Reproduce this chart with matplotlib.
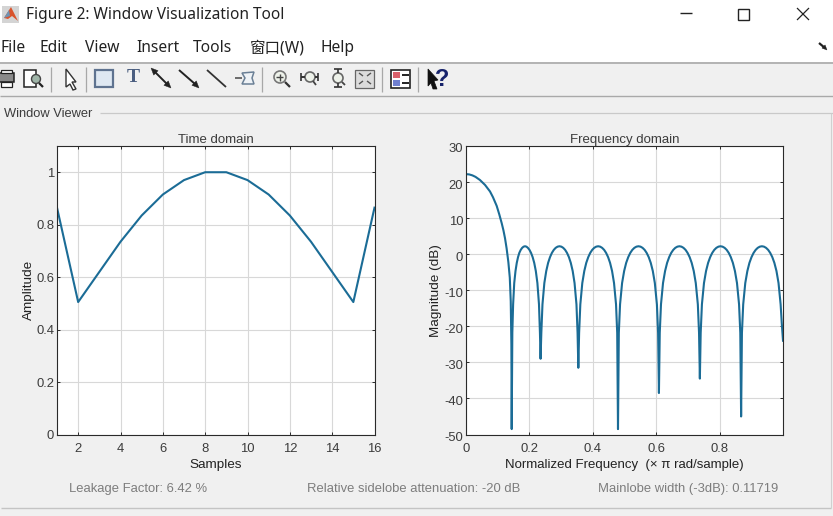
import matplotlib
matplotlib.use('Agg')
import matplotlib.pyplot as plt
from matplotlib.patches import Rectangle, Polygon, Circle
from matplotlib.transforms import ScaledTranslation

W, H = 833, 516

# time domain
samples = [1, 2, 3, 4, 5, 6, 7, 8, 9, 10, 11, 12, 13, 14, 15, 16]
amplitude = [0.865, 0.505, 0.62, 0.735, 0.835, 0.915, 0.97, 1.0, 1.0, 0.97, 0.915, 0.835, 0.735, 0.62, 0.505, 0.865]
time_xticks = [2, 4, 6, 8, 10, 12, 14, 16]
time_yticks = [0, 0.2, 0.4, 0.6, 0.8, 1]
time_ylabels = ['0', '0.2', '0.4', '0.6', '0.8', '1']

# frequency domain, read lobe by lobe
freq = [0, 0.01, 0.02, 0.03, 0.044, 0.06, 0.0756, 0.085, 0.0967, 0.105, 0.1125, 0.118, 0.123, 0.128, 0.1335, 0.138, 0.141, 0.143, 0.144,
        0.146, 0.1485, 0.152, 0.156, 0.160, 0.164, 0.168, 0.1725, 0.177, 0.1815, 0.186, 0.1905, 0.195, 0.200, 0.205, 0.210, 0.215, 0.220, 0.225, 0.230, 0.233, 0.235,
        0.2374, 0.241, 0.2469, 0.2529, 0.2588, 0.2648, 0.2707, 0.2767, 0.2826, 0.2886, 0.2945, 0.3005, 0.3064, 0.3124, 0.3183, 0.3243, 0.3302, 0.3362, 0.3421, 0.3481, 0.3516, 0.354,
        0.3565, 0.3603, 0.3665, 0.3728, 0.379, 0.3853, 0.3915, 0.3978, 0.404, 0.4103, 0.4165, 0.4228, 0.429, 0.4353, 0.4415, 0.4478, 0.454, 0.4603, 0.4665, 0.4728, 0.4765, 0.479,
        0.4816, 0.4855, 0.4919, 0.4984, 0.5048, 0.5113, 0.5177, 0.5242, 0.5306, 0.5371, 0.5435, 0.55, 0.5564, 0.5629, 0.5693, 0.5758, 0.5822, 0.5887, 0.5951, 0.6016, 0.6054, 0.608,
        0.6106, 0.6145, 0.6209, 0.6274, 0.6338, 0.6403, 0.6467, 0.6532, 0.6596, 0.6661, 0.6725, 0.679, 0.6854, 0.6919, 0.6983, 0.7048, 0.7112, 0.7177, 0.7241, 0.7306, 0.7344, 0.737,
        0.7396, 0.7435, 0.75, 0.7565, 0.763, 0.7695, 0.776, 0.7825, 0.789, 0.7955, 0.802, 0.8085, 0.815, 0.8215, 0.828, 0.8345, 0.841, 0.8475, 0.854, 0.8605, 0.8644, 0.867,
        0.8696, 0.8736, 0.8801, 0.8867, 0.8932, 0.8998, 0.9063, 0.9129, 0.9194, 0.926, 0.9325, 0.9391, 0.9456, 0.9522, 0.9587, 0.9653, 0.9718, 0.9784, 0.9849, 0.9915, 0.995, 0.999]
mag = [22.2, 22.12, 21.86, 21.44, 20.57, 19.2, 17.4, 15.8, 13.4, 11.0, 8.6, 6.6, 4.4, 1.6, -2.2, -6.5, -13, -25, -48.5,
       -21.8, -13.9, -8, -4.66, -2.4, -0.81, 0.36, 1.2, 1.76, 2.09, 2.2, 2.09, 1.76, 1.2, 0.36, -0.81, -2.4, -4.66, -8, -13.9, -21.8, -29,
       -21.8, -13.9, -8, -4.66, -2.4, -0.81, 0.36, 1.2, 1.76, 2.09, 2.2, 2.09, 1.76, 1.2, 0.36, -0.81, -2.4, -4.66, -8, -13.9, -21.8, -31.5,
       -21.8, -13.9, -8, -4.66, -2.4, -0.81, 0.36, 1.2, 1.76, 2.09, 2.2, 2.09, 1.76, 1.2, 0.36, -0.81, -2.4, -4.66, -8, -13.9, -21.8, -48.5,
       -21.8, -13.9, -8, -4.66, -2.4, -0.81, 0.36, 1.2, 1.76, 2.09, 2.2, 2.09, 1.76, 1.2, 0.36, -0.81, -2.4, -4.66, -8, -13.9, -21.8, -38.5,
       -21.8, -13.9, -8, -4.66, -2.4, -0.81, 0.36, 1.2, 1.76, 2.09, 2.2, 2.09, 1.76, 1.2, 0.36, -0.81, -2.4, -4.66, -8, -13.9, -21.8, -34.5,
       -21.8, -13.9, -8, -4.66, -2.4, -0.81, 0.36, 1.2, 1.76, 2.09, 2.2, 2.09, 1.76, 1.2, 0.36, -0.81, -2.4, -4.66, -8, -13.9, -21.8, -45,
       -21.8, -13.9, -8, -4.66, -2.4, -0.81, 0.36, 1.2, 1.76, 2.09, 2.2, 2.09, 1.76, 1.2, 0.36, -0.81, -2.4, -4.66, -8, -13.9, -19, -24]
freq_xticks = [0, 0.2, 0.4, 0.6, 0.8]
freq_xlabels = ['0', '0.2', '0.4', '0.6', '0.8']
freq_yticks = [-50, -40, -30, -20, -10, 0, 10, 20, 30]

menu_names = ['File', 'Edit', 'View', 'Insert', 'Tools', '窗口(W)', 'Help']
menu_x = [0, 40, 85, 136, 193, 250, 321]
status_texts = ['Leakage Factor: 6.42 %', 'Relative sidelobe attenuation: -20 dB', 'Mainlobe width (-3dB): 0.11719']
status_x = [69, 307, 598]

LINE = '#1b6c96'
GRID = '#d8d8d8'
EDGE = '#2a2a2a'
TXT = '#3c3c3c'
SANS = 'Liberation Sans'

plt.rcParams['font.family'] = [SANS, 'Noto Sans CJK SC', 'DejaVu Sans']
plt.rcParams['axes.unicode_minus'] = False

fig = plt.figure(figsize=(W / 100, H / 100), dpi=100, facecolor='#f0f0f0')

# window chrome, drawn in pixel coordinates
bg = fig.add_axes([0, 0, 1, 1], zorder=0)
bg.set_xlim(0, W)
bg.set_ylim(H, 0)
bg.axis('off')


def seg(x0, y0, x1, y1, c='#333333', lw=1.0):
    bg.plot([x0, x1], [y0, y1], color=c, lw=lw, solid_capstyle='butt')


def box(x, y, w, h, fc='none', ec='#333333', lw=1.0):
    bg.add_patch(Rectangle((x, y), w, h, facecolor=fc, edgecolor=ec, lw=lw))


def arrow_head(x, y, dx, dy, c='#222222', s=6):
    # small filled head pointing along (dx, dy)
    bg.add_patch(Polygon([(x, y), (x - s * dx + s * 0.45 * dy, y - s * dy - s * 0.45 * dx),
                          (x - s * dx - s * 0.45 * dy, y - s * dy + s * 0.45 * dx)], facecolor=c, edgecolor=c, lw=0.3))


bg.add_patch(Rectangle((0, 0), W, 62, facecolor='white', edgecolor='none'))
seg(0, 62.5, W, 62.5, '#a9a9a9', 1.2)
seg(0, 95.5, W, 95.5, '#a9a9a9', 1.0)

# title bar
box(2, 6, 17, 17, fc='#d4d4d4', ec='none')
bg.add_patch(Polygon([(4, 18), (11, 7), (18, 21), (12, 16), (8, 19)], facecolor='#d9532c', edgecolor='none'))
bg.add_patch(Polygon([(4, 18), (9, 10), (10, 16)], facecolor='#6f93b3', edgecolor='none'))
bg.text(26, 15, 'Figure 2: Window Visualization Tool', family='Noto Sans', fontsize=11.15, color='#222222', va='center')
seg(680, 13, 692, 13, '#222222', 1.0)
box(738.5, 8.5, 11, 11, ec='#222222', lw=1.0)
seg(797, 8, 809, 20, '#222222', 0.9)
seg(797, 20, 809, 8, '#222222', 0.9)

# menu bar
for name, x in zip(menu_names, menu_x):
    bg.text(x, 52.5, name, family=['Noto Sans', 'Noto Sans CJK SC'], fontsize=11.2, color='#222222', va='baseline')
seg(819, 43, 825, 48, '#222222', 1.6)
arrow_head(827, 50, 0.7, 0.7, s=5)

# toolbar
for x in [51, 86, 262, 382, 418]:
    seg(x, 67, x, 92, '#a8a8a8', 0.9)
# printer
box(-2, 73, 16, 9, fc='#8a8a8a', ec='#222222', lw=1.1)
box(1, 70, 11, 3, fc='white', ec='#222222', lw=0.9)
box(1, 82, 11, 5, fc='white', ec='#222222', lw=0.9)
# preview
box(24, 70, 12, 17, fc='white', ec='#222222', lw=1.1)
bg.add_patch(Circle((36, 79), 4.5, facecolor='#9fb5a8', edgecolor='#444444', lw=1.0))
seg(39, 83, 43, 87, '#222222', 1.6)
# pointer
bg.add_patch(Polygon([(66, 69), (76, 82), (72, 82), (76, 89), (73, 90), (70, 84), (66, 87)],
                     facecolor='white', edgecolor='#333333', lw=1.0))
# rectangle, text
box(95.5, 69.5, 18, 17, fc='#dfe8f2', ec='#5f7390', lw=1.6)
bg.text(133, 78, 'T', family='Liberation Serif', fontweight='bold', fontsize=14, color='#4b5e80', ha='center', va='center')
# arrows and line
seg(154, 71, 168, 85, '#222222', 1.4)
arrow_head(151, 68, -0.7, -0.7, s=7)
arrow_head(171, 88, 0.7, 0.7, s=7)
seg(179, 70, 195, 84, '#222222', 1.4)
arrow_head(199, 88, 0.7, 0.7, s=7)
seg(207, 70, 226, 87, '#333333', 1.3)
# pin
seg(235, 78, 242, 78, '#555555', 1.2)
bg.add_patch(Polygon([(242, 73), (254, 72), (252, 78), (254, 84), (242, 84), (245, 78)],
                     facecolor='#eef2f6', edgecolor='#6a7f95', lw=1.1))
# zoom in
bg.add_patch(Circle((280, 77), 6, facecolor='#eef2ea', edgecolor='#777777', lw=1.2))
seg(276.5, 77, 283.5, 77, '#444444', 1.0)
seg(280, 73.5, 280, 80.5, '#444444', 1.0)
seg(285, 82, 290, 87, '#333333', 1.6)
# zoom out / pan icons
bg.add_patch(Circle((310, 77), 5, facecolor='#eef2ea', edgecolor='#666666', lw=1.2))
seg(301, 77, 305, 77, '#333333', 1.4)
seg(315, 77, 318, 77, '#333333', 1.4)
seg(301, 73, 301, 81, '#333333', 1.2)
seg(318, 73, 318, 81, '#333333', 1.2)
seg(313, 81, 316, 85, '#444444', 1.3)
bg.add_patch(Circle((338, 78), 5, facecolor='#eef2ea', edgecolor='#666666', lw=1.2))
seg(334, 69, 342, 69, '#333333', 1.2)
seg(338, 69, 338, 73, '#333333', 1.2)
seg(334, 87, 342, 87, '#333333', 1.2)
seg(338, 83, 338, 87, '#333333', 1.2)
seg(342, 82, 345, 85, '#444444', 1.3)
# fit
box(355.5, 69.5, 19, 18, fc='#dcdcdc', ec='#666666', lw=0.9)
seg(359, 73, 363, 76, '#555555', 1.0)
seg(371, 73, 367, 76, '#555555', 1.0)
seg(359, 84, 363, 81, '#555555', 1.0)
seg(371, 84, 367, 81, '#555555', 1.0)
# legend
box(391.5, 69.5, 19, 18, fc='white', ec='#222222', lw=1.2)
box(393, 71.5, 7, 6, fc='#d9606a', ec='none')
box(393, 80, 7, 6, fc='#6f7fd0', ec='none')
seg(402, 74.5, 409, 74.5, '#222222', 1.4)
seg(402, 83, 409, 83, '#222222', 1.4)
# help pointer
bg.add_patch(Polygon([(428, 69), (438, 80), (434, 81), (437, 89), (433, 89), (431, 83), (428, 86)],
                     facecolor='#111111', edgecolor='#111111', lw=0.5))
bg.text(442, 79, '?', fontweight='bold', fontsize=17, color='#17236b', ha='center', va='center')

# panel frame
bg.text(4, 117, 'Window Viewer', fontsize=9.3, color=TXT, va='baseline')
seg(100, 112.5, W, 112.5, '#c9c9c9', 0.9)
seg(0.5, 507.5, 831.5, 507.5, '#c4c4c4', 1.0)
seg(831.5, 112.5, 831.5, 507.5, '#d0d0d0', 0.8)

# status texts
for s, x in zip(status_texts, status_x):
    bg.text(x, 492, s, fontsize=9.4, color='#7d7d7d', va='baseline')


def make_axes(x0, x1, y0, y1):
    ax = fig.add_axes([x0 / W, 1 - y1 / H, (x1 - x0) / W, (y1 - y0) / H], zorder=1)
    ax.set_facecolor('white')
    ax.grid(True, color=GRID, lw=0.8)
    ax.set_axisbelow(True)
    ax.tick_params(direction='in', top=True, right=True, length=2.5, width=0.7,
                   color=EDGE, labelcolor=TXT, labelsize=9.4, pad=2)
    ax.tick_params(axis='x', pad=6.4)
    for sp in ax.spines.values():
        sp.set_linewidth(0.8)
        sp.set_color(EDGE)
    return ax


ax1 = make_axes(57, 374.5, 146, 434.5)
ax1.plot(samples, amplitude, color=LINE, lw=1.5)
ax1.set_xlim(1, 16)
ax1.set_ylim(0, 1.1)
ax1.set_xticks(time_xticks)
ax1.set_yticks(time_yticks)
ax1.set_yticklabels(time_ylabels)
ax1.set_title('Time domain', fontsize=9.5, color=TXT, pad=2)
ax1.set_xlabel('Samples', fontsize=9.7, color='#222222', labelpad=2.4)
ax1.set_ylabel('Amplitude', fontsize=9.7, color='#222222')
ax1.yaxis.set_label_coords((35 - 57) / 317.5, 0.5)

ax2 = make_axes(466, 783, 146, 434.5)
ax2.plot(freq, mag, color=LINE, lw=1.5)
ax2.set_xlim(0, 0.999)
ax2.set_ylim(-50, 30)
ax2.set_xticks(freq_xticks)
ax2.set_xticklabels(freq_xlabels)
ax2.set_yticks(freq_yticks)
# tick labels on this axis sit about 2px under their gridlines
for lab in ax2.get_yticklabels():
    lab.set_transform(lab.get_transform() + ScaledTranslation(0, -2 / 100, fig.dpi_scale_trans))
ax2.set_title('Frequency domain', fontsize=9.5, color=TXT, pad=2)
ax2.set_xlabel('Normalized Frequency  (× π rad/sample)', fontsize=9.5, color='#222222', labelpad=2.4)
ax2.set_ylabel('Magnitude (dB)', fontsize=9.7, color='#222222')
ax2.yaxis.set_label_coords((442 - 466) / 317, 0.5)

fig.savefig('out.png', dpi=100, facecolor=fig.get_facecolor())
